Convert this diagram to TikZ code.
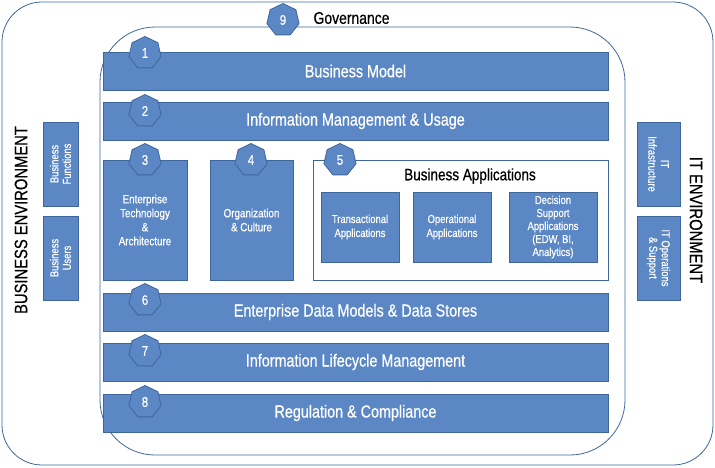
\documentclass[tikz,border=0pt]{standalone}
\usepackage{fontspec}
\setmainfont{Liberation Sans}[FakeStretch=0.82, FakeBold=0.6]
\usetikzlibrary{shapes.geometric}
\definecolor{barfill}{HTML}{5B87C5}
\definecolor{barline}{HTML}{3F669C}
\tikzset{
  bar/.style={draw=barline, fill=barfill, line width=0.8pt, text=white},
  badge/.style={regular polygon, regular polygon sides=7, draw=barline, fill=barfill, line width=0.8pt, text=white, minimum size=33pt, inner sep=0pt, font=\fontsize{14}{14}\selectfont},
  frame/.style={draw=barline, line width=0.8pt}
}
\begin{document}
\begin{tikzpicture}[x=1pt, y=-1pt]
      \useasboundingbox (0,0) rectangle (715,467);

      %environment and governance
      \draw[frame, rounded corners=40pt] (2,2) rectangle (713,465);
      \draw[frame, rounded corners=55pt] (100,27) rectangle (625,455);
      \node[font=\fontsize{17}{17}\selectfont, anchor=west] (gov) at (310,18) {Governance};

      %bars
      \node[bar, font=\fontsize{17.5}{17.5}\selectfont] (model) at (355.5,71) [minimum width=505pt, minimum height=38pt] {Business Model};
      \node[bar, font=\fontsize{17.5}{17.5}\selectfont] (info) at (355.5,121) [minimum width=505pt, minimum height=38pt] {Information Management \& Usage};
      \node[bar, font=\fontsize{17.5}{17.5}\selectfont] (data) at (355.5,312) [minimum width=505pt, minimum height=38pt] {Enterprise Data Models \& Data Stores};
      \node[bar, font=\fontsize{17.5}{17.5}\selectfont] (life) at (355.5,362) [minimum width=505pt, minimum height=38pt] {Information Lifecycle Management};
      \node[bar, font=\fontsize{17.5}{17.5}\selectfont] (reg) at (355.5,413) [minimum width=505pt, minimum height=38pt] {Regulation \& Compliance};

      %columns
      \node[bar, minimum width=84pt, minimum height=120pt, align=center, font=\fontsize{12}{14}\selectfont] (tech) at (145,220) {Enterprise\\Technology\\\&\\Architecture};
      \node[bar, minimum width=83pt, minimum height=120pt, align=center, font=\fontsize{12}{14}\selectfont] (org) at (251.5,220) {Organization\\\& Culture};
      \node[frame, fill=white, minimum width=295pt, minimum height=120pt] (apps) at (460.5,220) {};
      \node[font=\fontsize{16.5}{16.5}\selectfont] (appstitle) at (470,176) {Business Applications};
      \node[bar, minimum width=78pt, minimum height=70pt, align=center, font=\fontsize{11.5}{14}\selectfont] (trans) at (360,227) {Transactional\\Applications};
      \node[bar, minimum width=78pt, minimum height=70pt, align=center, font=\fontsize{11.5}{14}\selectfont] (oper) at (452,227) {Operational\\Applications};
      \node[bar, minimum width=88pt, minimum height=70pt, align=center, font=\fontsize{11.5}{13}\selectfont] (dss) at (553,227) {Decision\\Support\\Applications\\(EDW, BI,\\Analytics)};

      %side boxes
      \node[bar, minimum width=84pt, minimum height=35pt, rotate=90, align=center, font=\fontsize{11.5}{12.5}\selectfont] (func) at (60.5,164) {Business\\Functions};
      \node[bar, minimum width=84pt, minimum height=35pt, rotate=90, align=center, font=\fontsize{11.5}{12.5}\selectfont] (users) at (60.5,258) {Business\\Users};
      \node[bar, minimum width=84pt, minimum height=43pt, rotate=-90, align=center, font=\fontsize{11.5}{12.5}\selectfont] (infra) at (658.5,164) {IT\\Infrastructure};
      \node[bar, minimum width=84pt, minimum height=43pt, rotate=-90, align=center, font=\fontsize{11.5}{12.5}\selectfont] (ops) at (658.5,258) {IT Operations\\\& Support};
      \node[rotate=90, font=\fontsize{18}{18}\selectfont] (busenv) at (21,220) {BUSINESS ENVIRONMENT};
      \node[rotate=-90, font=\fontsize{18}{18}\selectfont] (itenv) at (696,220) {IT ENVIRONMENT};

      %badges
      \node[badge] (b1) at (145,53) {1};
      \node[badge] (b2) at (145,111) {2};
      \node[badge] (b3) at (145,160) {3};
      \node[badge] (b4) at (251,160) {4};
      \node[badge] (b5) at (340,160) {5};
      \node[badge] (b6) at (145,300) {6};
      \node[badge] (b7) at (145,351) {7};
      \node[badge] (b8) at (145,402) {8};
      \node[badge] (b9) at (283,20) {9};
\end{tikzpicture}
\end{document}
